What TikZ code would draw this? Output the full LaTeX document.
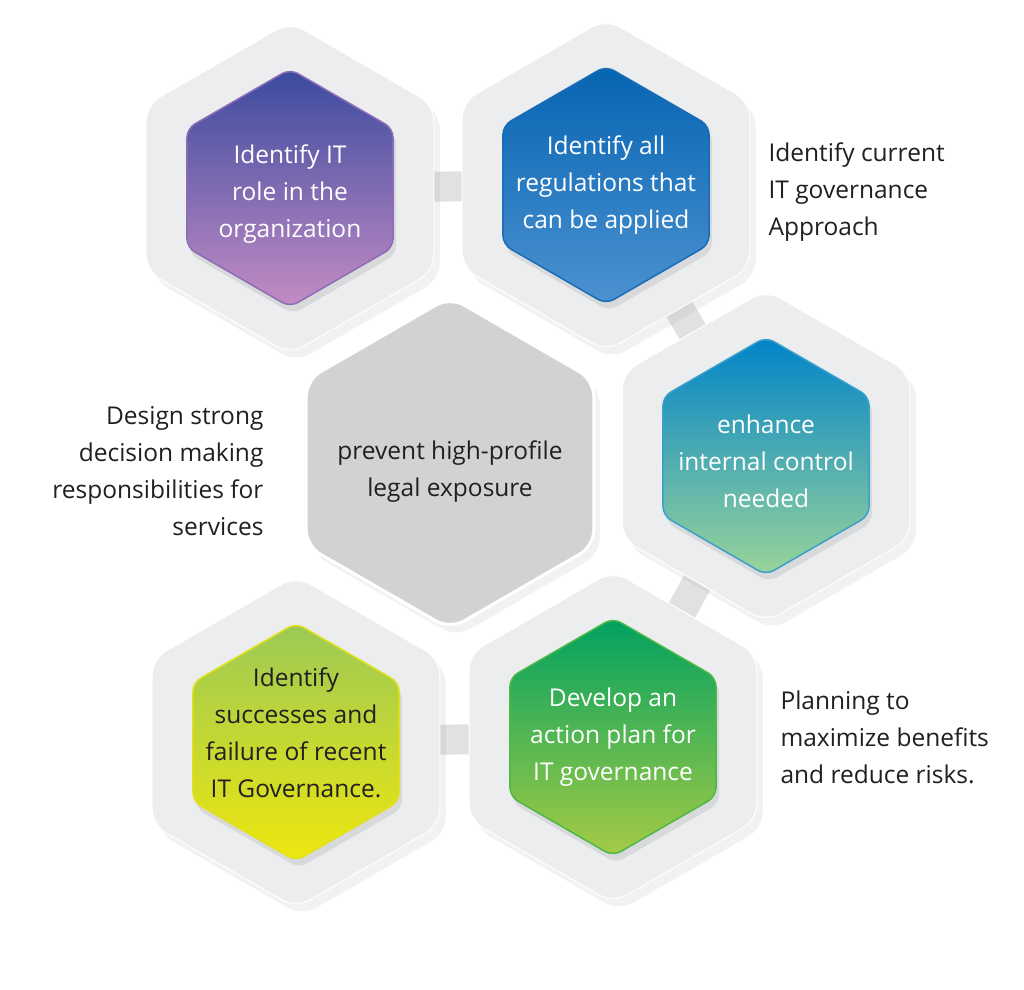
\documentclass[tikz,border=0pt]{standalone}
\usepackage{fontspec}
\setmainfont{Open Sans}
\usetikzlibrary{shapes.geometric,shadows,backgrounds}

\definecolor{rimgray}{HTML}{ECEDEE}
\definecolor{linkgray}{HTML}{E0E1E2}
\definecolor{midgray}{HTML}{D1D2D4}
\definecolor{notegray}{HTML}{231F20}
\definecolor{roleTop}{HTML}{3A4A9F}
\definecolor{roleBot}{HTML}{C48CC4}
\definecolor{roleEdge}{HTML}{8C6DB6}
\definecolor{regsTop}{HTML}{0664B2}
\definecolor{regsBot}{HTML}{4C92D0}
\definecolor{regsEdge}{HTML}{1A6CB6}
\definecolor{ctrlTop}{HTML}{0083C9}
\definecolor{ctrlBot}{HTML}{9AD49A}
\definecolor{ctrlEdge}{HTML}{3A9FCB}
\definecolor{succTop}{HTML}{9BC956}
\definecolor{succBot}{HTML}{EEE70F}
\definecolor{succEdge}{HTML}{E2E01C}
\definecolor{planTop}{HTML}{00A160}
\definecolor{planBot}{HTML}{A6CB45}
\definecolor{planEdge}{HTML}{4DB848}

\begin{document}
\begin{tikzpicture}[
    x=1pt, y=-1pt,
    every node/.style={font=\fontsize{24.5}{37}\selectfont},
    outerhex/.style={regular polygon, regular polygon sides=6, shape border rotate=30,
      minimum size=332pt, inner sep=0pt, rounded corners=16pt, fill=rimgray, draw=white, line width=1pt,
      drop shadow={shadow xshift=6pt, shadow yshift=-8pt, opacity=0.10}},
    innerhex/.style={regular polygon, regular polygon sides=6, shape border rotate=30,
      minimum size=238pt, inner sep=0pt, rounded corners=9pt, line width=1.5pt,
      drop shadow={shadow xshift=3pt, shadow yshift=-7pt, opacity=0.18}},
    hextext/.style={align=center, text=white},
    note/.style={text=notegray},
    link/.style={line width=30pt, draw=linkgray}
  ]
  \useasboundingbox (0,0) rectangle (1024,989);

  % outer rims
  \node[outerhex, fill=midgray, draw=white, line width=3pt] (mid) at (450,463) {};
  \node[outerhex] (roleout) at (290,188) {};
  \node[outerhex] (regsout) at (606,185) {};
  \node[outerhex] (ctrlout) at (766,456) {};
  \node[outerhex] (succout) at (296,742) {};
  \node[outerhex] (planout) at (613,737) {};

  % coloured hexagons
  \node[innerhex, top color=roleTop, bottom color=roleBot, draw=roleEdge] (role) at (roleout) {};
  \node[innerhex, top color=regsTop, bottom color=regsBot, draw=regsEdge] (regs) at (regsout) {};
  \node[innerhex, top color=ctrlTop, middle color=ctrlTop!70!ctrlBot, bottom color=ctrlBot, draw=ctrlEdge] (ctrl) at (ctrlout) {};
  \node[innerhex, top color=succTop, bottom color=succBot, draw=succEdge] (succ) at (succout) {};
  \node[innerhex, top color=planTop, bottom color=planBot, draw=planEdge] (plan) at (planout) {};

  % texts
  \node[hextext] (roletxt) at ([yshift=-6]role) {Identify IT\\role in the\\organization};
  \node[hextext] (regstxt) at (regs) {Identify all\\regulations that\\can be applied};
  \node[hextext] (ctrltxt) at ([yshift=-5]ctrl) {enhance\\internal control\\needed};
  \node[hextext, text=notegray] (midtxt) at ([yshift=-9]mid) {prevent high-profile\\legal exposure};
  \node[hextext, text=notegray] (succtxt) at ([yshift=9]succ) {Identify\\successes and\\failure of recent\\IT Governance.};
  \node[hextext] (plantxt) at (plan) {Develop an\\action plan for\\IT governance};

  \node[note, anchor=west, align=left] (approach) at (765,192) {Identify current\\IT governance\\Approach};
  \node[note, anchor=east, align=right] (design) at (267,471) {Design strong\\decision making\\responsibilities for\\services};
  \node[note, anchor=west, align=left] (benefits) at (777,737) {Planning to\\maximize benefits\\and reduce risks.};

  % bars behind the rims
  \begin{scope}[on background layer]
    \fill[white] (0,0) rectangle (1024,989);
    \draw[link] (roleout.center) -- (regsout.center);
    \draw[link] (regsout.center) -- (ctrlout.center);
    \draw[link] (ctrlout.center) -- (planout.center);
    \draw[link] (succout.center) -- (planout.center);
  \end{scope}
\end{tikzpicture}
\end{document}
